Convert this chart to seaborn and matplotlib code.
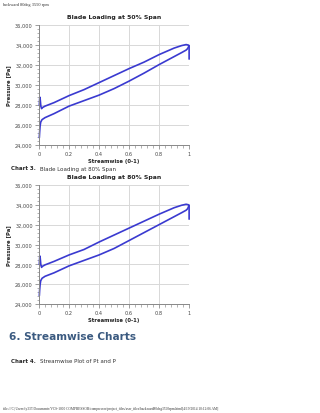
import matplotlib
matplotlib.use('Agg')
import matplotlib.pyplot as plt
import seaborn as sns
from matplotlib.ticker import MultipleLocator, FuncFormatter

# Blade loading at 50% span (pressure side / suction side, streamwise 0-1)
x_upper_50 = [0.002, 0.005, 0.008, 0.012, 0.017, 0.022, 0.04, 0.1, 0.2, 0.3, 0.4, 0.5, 0.6, 0.7, 0.8, 0.9, 0.95, 0.98, 0.995, 1.0, 1.0]
p_upper_50 = [28000, 28800, 28550, 27900, 27650, 27750, 27900, 28250, 28950, 29550, 30250, 30950, 31650, 32300, 33050, 33700, 33950, 34050, 34000, 33900, 32600]
x_lower_50 = [0.002, 0.004, 0.007, 0.011, 0.02, 0.04, 0.1, 0.2, 0.3, 0.4, 0.5, 0.6, 0.7, 0.8, 0.9, 0.95, 0.98, 0.99, 1.0]
p_lower_50 = [24750, 25300, 25900, 26300, 26550, 26750, 27150, 27900, 28450, 29000, 29650, 30400, 31200, 32050, 32850, 33250, 33500, 33650, 33950]

# Blade loading at 80% span
x_upper_80 = [0.002, 0.005, 0.008, 0.012, 0.017, 0.022, 0.04, 0.1, 0.2, 0.3, 0.4, 0.5, 0.6, 0.7, 0.8, 0.9, 0.95, 0.98, 0.995, 1.0, 1.0]
p_upper_80 = [28000, 28850, 28600, 27950, 27700, 27800, 27950, 28300, 28950, 29500, 30250, 30950, 31650, 32350, 33050, 33700, 33950, 34050, 34000, 33900, 32550]
x_lower_80 = [0.002, 0.004, 0.007, 0.011, 0.02, 0.04, 0.1, 0.2, 0.3, 0.4, 0.5, 0.6, 0.7, 0.8, 0.9, 0.95, 0.98, 0.99, 1.0]
p_lower_80 = [24850, 25400, 25950, 26350, 26600, 26800, 27150, 27850, 28400, 28950, 29600, 30400, 31200, 32000, 32800, 33200, 33450, 33600, 33950]

x_ticks = [0, 0.2, 0.4, 0.6, 0.8, 1]
x_tick_labels = ['0', '0.2', '0.4', '0.6', '0.8', '1']
y_ticks = [24000, 26000, 28000, 30000, 32000, 34000, 36000]

sns.set_style('white')
plt.rcParams['font.family'] = ['DejaVu Sans']

fig = plt.figure(figsize=(3.2, 4.14), dpi=100)
line_color = '#3a3ad0'


def blade_chart(rect, title, xu, pu, xl, pl):
    ax = fig.add_axes(rect)
    sns.lineplot(x=xu, y=pu, sort=False, estimator=None, color=line_color, lw=1.2, ax=ax, clip_on=False)
    sns.lineplot(x=xl, y=pl, sort=False, estimator=None, color=line_color, lw=1.2, ax=ax, clip_on=False)
    ax.set_xlim(0, 1.0)
    ax.set_ylim(24000, 36000)
    ax.set_xticks(x_ticks)
    ax.set_xticklabels(x_tick_labels)
    ax.set_yticks(y_ticks)
    ax.yaxis.set_major_formatter(FuncFormatter(lambda v, p: f'{int(v):,}'))
    ax.xaxis.set_minor_locator(MultipleLocator(0.04))
    ax.yaxis.set_minor_locator(MultipleLocator(400))
    ax.grid(True, which='major', color='#d8d8d8', lw=0.7)
    ax.set_axisbelow(True)
    for s in ['top', 'right']:
        ax.spines[s].set_visible(False)
    for s in ['left', 'bottom']:
        ax.spines[s].set_color('#888888')
        ax.spines[s].set_linewidth(0.7)
    ax.tick_params(which='major', length=3, width=0.5, color='#777777', labelsize=3.6, pad=1.5,
                   left=True, bottom=True, labelcolor='#444444')
    ax.tick_params(which='minor', length=1.8, width=0.4, color='#777777', left=True, bottom=True)
    ax.set_title(title, fontsize=4.4, fontweight='bold', pad=5, color='#222222')
    ax.set_xlabel('Streamwise (0-1)', fontsize=3.8, fontweight='bold', labelpad=1, color='#222222')
    ax.set_ylabel('Pressure [Pa]', fontsize=3.8, fontweight='bold', labelpad=3, color='#222222')
    return ax


blade_chart([0.122, 0.647, 0.469, 0.290], 'Blade Loading at 50% Span',
            x_upper_50, p_upper_50, x_lower_50, p_lower_50)
blade_chart([0.122, 0.263, 0.469, 0.288], 'Blade Loading at 80% Span',
            x_upper_80, p_upper_80, x_lower_80, p_lower_80)

# page texts
fig.text(2 / 320, 1 - 5 / 414, 'backward 80deg 3550 rpm', fontsize=3.2, family='Liberation Serif',
         va='center', color='#333333')
fig.text(11 / 320, 1 - 169 / 414, 'Chart 3.', fontsize=4.0, fontweight='bold', va='center')
fig.text(40 / 320, 1 - 169 / 414, 'Blade Loading at 80% Span', fontsize=4.0, va='center', color='#333333')
fig.text(9 / 320, 1 - 337 / 414, '6. Streamwise Charts', fontsize=7.6, fontweight='bold', va='center',
         color='#3b5a80')
fig.text(11 / 320, 1 - 362 / 414, 'Chart 4.', fontsize=4.0, fontweight='bold', va='center')
fig.text(40 / 320, 1 - 362 / 414, 'Streamwise Plot of Pt and P', fontsize=4.0, va='center', color='#333333')
fig.text(3 / 320, 1 - 409 / 414,
         'file:///C|/Users/fy337/Documents/VCS-1000 COMPRESSOR/compressor/project_files/user_files/backward80deg3550rpm.html[4/19/2014 10:12:06 AM]',
         fontsize=2.5, family='Liberation Serif', va='center', color='#333333')

plt.savefig('out.png', dpi=100)
